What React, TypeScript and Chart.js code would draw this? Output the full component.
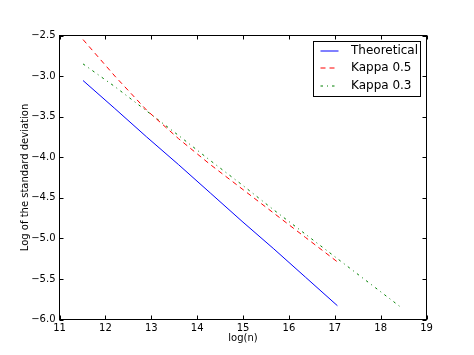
import React, { useEffect, useRef } from "react";
import { Chart, registerables } from "chart.js";

Chart.register(...registerables);

const logN = [11.513, 12.206, 12.899, 13.592, 14.286, 14.979, 15.672, 16.365, 17.058];
const logNLong = [11.513, 12.206, 12.899, 13.592, 14.286, 14.979, 15.672, 16.365, 17.058, 17.751, 18.444];
const theoretical = [-3.055, -3.40, -3.75, -4.09, -4.44, -4.79, -5.13, -5.48, -5.83];
const kappa05 = [-2.55, -3.00, -3.42, -3.77, -4.09, -4.39, -4.69, -4.99, -5.29];
const kappa03 = [-2.85, -3.13, -3.43, -3.73, -4.04, -4.34, -4.65, -4.95, -5.25, -5.55, -5.85];
const seriesLabels = ["Theoretical", "Kappa 0.5", "Kappa 0.3"];
const seriesColors = ["#0000ff", "#ff0000", "#008000"];
const seriesDashes: number[][] = [[], [5, 4], [2.5, 4, 1, 4]];
const xTicks = [11, 12, 13, 14, 15, 16, 17, 18, 19];
const yTicks = [-6.0, -5.5, -5.0, -4.5, -4.0, -3.5, -3.0, -2.5];

const FONT = "'DejaVu Sans', sans-serif";

const frame = {
  id: "frame",
  afterDatasetsDraw(chart: any) {
    const { ctx, chartArea: a, scales } = chart;
    const x = scales.x;
    const y = scales.y;
    ctx.save();
    ctx.strokeStyle = "#000";
    ctx.lineWidth = 1;
    ctx.setLineDash([]);
    ctx.strokeRect(a.left, a.top, a.right - a.left, a.bottom - a.top);
    const tl = 4;
    ctx.beginPath();
    xTicks.forEach((v) => {
      const px = Math.round(x.getPixelForValue(v)) + 0.5;
      ctx.moveTo(px, a.bottom);
      ctx.lineTo(px, a.bottom - tl);
      ctx.moveTo(px, a.top);
      ctx.lineTo(px, a.top + tl);
    });
    yTicks.forEach((v) => {
      const py = Math.round(y.getPixelForValue(v)) + 0.5;
      ctx.moveTo(a.left, py);
      ctx.lineTo(a.left + tl, py);
      ctx.moveTo(a.right, py);
      ctx.lineTo(a.right - tl, py);
    });
    ctx.stroke();

    // legend
    const bx = 313.5, by = 41.5, bw = 107, bh = 55;
    ctx.fillStyle = "#fff";
    ctx.fillRect(bx, by, bw, bh);
    ctx.strokeStyle = "#000";
    ctx.strokeRect(bx, by, bw, bh);
    const rows = [51, 68.3, 85.7];
    seriesLabels.forEach((label, i) => {
      const ry = Math.round(rows[i]);
      ctx.beginPath();
      ctx.strokeStyle = seriesColors[i];
      ctx.setLineDash(seriesDashes[i]);
      ctx.moveTo(320.5, ry);
      ctx.lineTo(338.5, ry);
      ctx.stroke();
      ctx.setLineDash([]);
      ctx.fillStyle = "#000";
      ctx.font = "12px " + FONT;
      ctx.textBaseline = "middle";
      ctx.textAlign = "left";
      ctx.fillText(label, 351, rows[i]);
    });
    ctx.restore();
  },
};

export default function App() {
  const ref = useRef<HTMLCanvasElement>(null);
  useEffect(() => {
    document.body.style.margin = "0";
    const canvas = ref.current!;
    const toPts = (xs: number[], ys: number[]) => ys.map((v, i) => ({ x: xs[i], y: v }));
    const chart = new Chart(canvas, {
      type: "line",
      data: {
        datasets: [
          {
            label: seriesLabels[0],
            data: toPts(logN, theoretical),
            borderColor: seriesColors[0],
            borderWidth: 1,
            pointRadius: 0,
            tension: 0,
          },
          {
            label: seriesLabels[1],
            data: toPts(logN, kappa05),
            borderColor: seriesColors[1],
            borderWidth: 1,
            borderDash: seriesDashes[1],
            pointRadius: 0,
            tension: 0,
          },
          {
            label: seriesLabels[2],
            data: toPts(logNLong, kappa03),
            borderColor: seriesColors[2],
            borderWidth: 1,
            borderDash: seriesDashes[2],
            pointRadius: 0,
            tension: 0,
          },
        ],
      },
      options: {
        animation: false,
        responsive: false,
        layout: { padding: { left: 0, top: 35.5, right: 47.5, bottom: 0 } },
        plugins: { legend: { display: false }, tooltip: { enabled: false } },
        scales: {
          x: {
            type: "linear",
            min: 11,
            max: 19,
            afterFit: (s: any) => {
              s.height = 35.5;
            },
            afterBuildTicks: (s: any) => {
              s.ticks = xTicks.map((v) => ({ value: v }));
            },
            grid: { display: false, drawTicks: false },
            border: { display: false },
            ticks: {
              padding: 3,
              color: "#000",
              font: { family: FONT, size: 10 },
              maxRotation: 0,
              callback: (v: any) => String(v),
            },
            title: {
              display: true,
              text: "log(n)",
              color: "#000",
              font: { family: FONT, size: 10 },
              padding: { top: 0, bottom: 11 },
            },
          },
          y: {
            type: "linear",
            min: -6,
            max: -2.5,
            afterFit: (s: any) => {
              s.width = 59.5;
            },
            afterBuildTicks: (s: any) => {
              s.ticks = yTicks.map((v) => ({ value: v }));
            },
            grid: { display: false, drawTicks: false },
            border: { display: false },
            ticks: {
              padding: 4,
              color: "#000",
              font: { family: FONT, size: 10 },
              callback: (v: any) => (v < 0 ? "\u2212" : "") + Math.abs(Number(v)).toFixed(1),
            },
            title: {
              display: true,
              text: "Log of the standard deviation",
              color: "#000",
              font: { family: FONT, size: 10 },
              padding: { top: 19, bottom: 0 },
            },
          },
        },
      },
      plugins: [frame],
    });
    return () => chart.destroy();
  }, []);
  return (
    <div style={{ width: 474, height: 355 }}>
      <canvas ref={ref} width={474} height={355} style={{ display: "block" }} />
    </div>
  );
}
